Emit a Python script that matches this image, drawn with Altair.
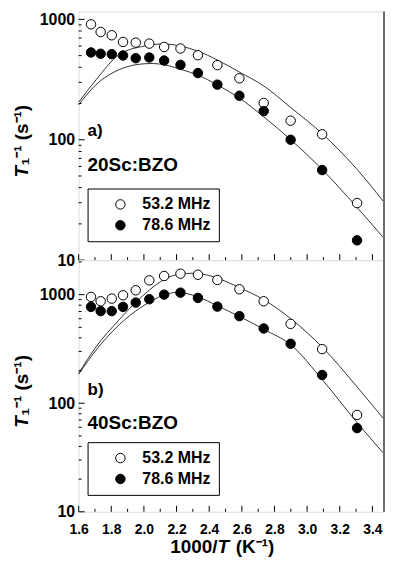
import altair as alt
import pandas as pd

SERIES = ["53.2 MHz", "78.6 MHz"]

# measured points (1000/T, T1^-1)
x_pts = [1.676, 1.735, 1.803, 1.872, 1.95, 2.033, 2.124, 2.224, 2.331, 2.45, 2.585, 2.734, 2.899, 3.092, 3.306]
a_532 = [910, 785, 738, 649, 641, 629, 590, 573, 504, 417, 324, 202, 144, 111, 29.8]
a_786 = [531, 518, 514, 501, 476, 482, 455, 419, 358, 287, 232, 173, 100, 56, 14.6]
b_532 = [953, 869, 919, 987, 1097, 1354, 1485, 1560, 1525, 1365, 1121, 869, 538, 315, 78]
b_786 = [771, 705, 705, 771, 845, 907, 1000, 1043, 933, 776, 634, 488, 353, 182, 59]

# fitted curves
a_fit532_x = [1.6, 1.707, 1.846, 2.005, 2.12, 2.224, 2.33, 2.45, 2.585, 2.734, 2.9, 3.09, 3.3, 3.465]
a_fit532_y = [205, 315, 507, 601, 625, 600, 545, 460, 365, 280, 185, 113, 58, 31]
a_fit786_x = [1.6, 1.707, 1.846, 2.005, 2.05, 2.124, 2.224, 2.33, 2.45, 2.585, 2.734, 2.9, 3.09, 3.3, 3.465]
a_fit786_y = [195, 287, 381, 428, 430, 420, 385, 345, 285, 222, 155, 100, 57, 28, 15.5]
b_fit532_x = [1.6, 1.707, 1.846, 1.95, 2.033, 2.124, 2.224, 2.3, 2.4, 2.45, 2.585, 2.734, 2.9, 3.1, 3.3, 3.465]
b_fit532_y = [188, 331, 582, 850, 1100, 1380, 1550, 1575, 1500, 1420, 1160, 900, 600, 320, 145, 73]
b_fit786_x = [1.6, 1.707, 1.846, 1.986, 2.124, 2.2, 2.327, 2.45, 2.585, 2.734, 2.9, 3.1, 3.3, 3.465]
b_fit786_y = [185, 309, 524, 771, 990, 1050, 960, 790, 630, 480, 345, 160, 68, 35]

x_major = [1.6, 1.8, 2.0, 2.2, 2.4, 2.6, 2.8, 3.0, 3.2, 3.4]
x_minor = [1.7, 1.9, 2.1, 2.3, 2.5, 2.7, 2.9, 3.1, 3.3]
y_major = [10, 100, 1000]
y_minor = [20, 30, 40, 50, 60, 70, 80, 90, 200, 300, 400, 500, 600, 700, 800, 900, 2000]

FONT = "Liberation Sans"
W = 306
XDOM = [1.6, 3.465]
NB = "\u00a0"


def pts_frame(y1, y2):
    return pd.DataFrame({
        "x": x_pts + x_pts,
        "y": y1 + y2,
        "series": [SERIES[0]] * len(x_pts) + [SERIES[1]] * len(x_pts),
    })


def fit_frame(x1, y1, x2, y2):
    return pd.DataFrame({
        "x": x1 + x2,
        "y": y1 + y2,
        "series": [SERIES[0]] * len(x1) + [SERIES[1]] * len(x2),
    })


def one():
    return pd.DataFrame({"k": [0]})


def panel(pts, fit, ymax, height, tag, sample, legend_y, tag_y, sample_y, bottom):
    xs = alt.Scale(domain=XDOM, nice=False, zero=False)
    ys = alt.Scale(type="log", domain=[10, ymax], nice=False)
    yminor = [v for v in y_minor if v < ymax]

    xaxis = alt.Axis(values=x_major, format=".1f", ticks=False, domain=False, grid=False,
                     labels=bottom, labelPadding=11, labelFontSize=14, labelFlush=False,
                     labelFont=FONT, labelFontWeight="bold", labelColor="black", title=None)
    yaxis = alt.Axis(values=y_major, format="d", ticks=False, domain=False, grid=False,
                     labelPadding=4, labelFontSize=16, labelFont=FONT, labelFontWeight="bold",
                     labelColor="black", title=None)

    X = alt.X("x:Q", scale=xs, axis=xaxis)
    Y = alt.Y("y:Q", scale=ys, axis=yaxis)

    lines = alt.Chart(fit).mark_line(color="black", strokeWidth=0.8, interpolate="monotone").encode(
        x=X, y=Y, detail="series:N",
    )
    points = alt.Chart(pts).mark_point(shape="circle", size=90, filled=True, stroke="black",
                                       strokeWidth=1, opacity=1).encode(
        x=X, y=Y,
        fill=alt.Fill("series:N", scale=alt.Scale(domain=SERIES, range=["white", "black"]),
                      legend=alt.Legend(title=None, orient="none", legendX=9, legendY=legend_y,
                                        strokeColor="black", fillColor="white", padding=8,
                                        symbolType="circle", symbolSize=90,
                                        symbolStrokeColor="black", symbolStrokeWidth=1,
                                        symbolOffset=17, labelOffset=14, labelFont=FONT,
                                        labelFontSize=16, labelFontWeight="bold", labelColor="black",
                                        rowPadding=5,
                                        labelExpr="datum.label + '" + NB * 4 + "'")),
    )
    ymaj = alt.Chart(pd.DataFrame({"y": y_major})).mark_rule(color="black", strokeWidth=1).encode(
        y=Y, x=alt.value(0), x2=alt.value(6))
    ymin = alt.Chart(pd.DataFrame({"y": yminor})).mark_rule(color="black", strokeWidth=1).encode(
        y=Y, x=alt.value(0), x2=alt.value(3))
    xmaj = alt.Chart(pd.DataFrame({"x": x_major})).mark_rule(color="black", strokeWidth=1).encode(
        x=X, y=alt.value(height), y2=alt.value(height - 6))
    xmin = alt.Chart(pd.DataFrame({"x": x_minor})).mark_rule(color="black", strokeWidth=1).encode(
        x=X, y=alt.value(height), y2=alt.value(height - 3))
    right_edge = alt.Chart(one()).mark_rule(color="#6e6e6e", strokeWidth=2).encode(
        x=alt.value(W + 1), y=alt.value(0), y2=alt.value(height))

    tag_t = alt.Chart(one()).mark_text(font=FONT, fontSize=17, fontWeight="bold", align="left",
                                       baseline="middle", color="black").encode(
        x=alt.value(9), y=alt.value(tag_y), text=alt.value(tag))
    samp_t = alt.Chart(one()).mark_text(font=FONT, fontSize=19, fontWeight="bold", align="left",
                                        baseline="middle", color="black").encode(
        x=alt.value(9), y=alt.value(sample_y), text=alt.value(sample))

    # y title: italic T + rest
    ty_bottom = height / 2 + 42
    yt1 = alt.Chart(one()).mark_text(font=FONT, fontSize=19, fontWeight="bold", fontStyle="italic",
                                     angle=270, align="left", baseline="alphabetic", color="black").encode(
        x=alt.value(-51), y=alt.value(ty_bottom), text=alt.value("T"))
    yt2 = alt.Chart(one()).mark_text(font=FONT, fontSize=19, fontWeight="bold",
                                     angle=270, align="left", baseline="alphabetic", color="black").encode(
        x=alt.value(-51), y=alt.value(ty_bottom - 12), text=alt.value("\u2081\u207b\u00b9 (s\u207b\u00b9)"))
    anchor = alt.Chart(one()).mark_rule(opacity=0, strokeWidth=0.01).encode(
        x=alt.value(-70), y=alt.value(10), y2=alt.value(20))

    layers = [lines, points, ymaj, ymin, xmaj, xmin, right_edge, tag_t, samp_t, yt1, yt2, anchor]
    if bottom:
        tb = height + 41
        xt1 = alt.Chart(one()).mark_text(font=FONT, fontSize=19, fontWeight="bold", align="left",
                                         baseline="alphabetic", color="black").encode(
            x=alt.value(92), y=alt.value(tb), text=alt.value("1000/"))
        xt2 = alt.Chart(one()).mark_text(font=FONT, fontSize=19, fontWeight="bold", fontStyle="italic",
                                         align="left", baseline="alphabetic", color="black").encode(
            x=alt.value(139.6), y=alt.value(tb), text=alt.value("T"))
        xt3 = alt.Chart(one()).mark_text(font=FONT, fontSize=19, fontWeight="bold", align="left",
                                         baseline="alphabetic", color="black").encode(
            x=alt.value(158), y=alt.value(tb), text=alt.value("(K\u207b\u00b9)"))
        layers += [xt1, xt2, xt3]
    return alt.layer(*layers).properties(width=W, height=height)


pa = panel(pts_frame(a_532, a_786), fit_frame(a_fit532_x, a_fit532_y, a_fit786_x, a_fit786_y),
           1164, 250, "a)", "20Sc:BZO", 178, 120, 154, False)
pb = panel(pts_frame(b_532, b_786), fit_frame(b_fit532_x, b_fit532_y, b_fit786_x, b_fit786_y),
           2080, 253, "b)", "40Sc:BZO", 183, 131, 164, True)

chart = alt.vconcat(pa, pb, spacing=0, bounds="flush").resolve_scale(fill="independent").resolve_legend(
    fill="independent").properties(padding=0).configure_view(
    stroke="black", strokeWidth=1).configure(background="white")

chart.save("out.html", embed_options={"renderer": "svg", "actions": False})
